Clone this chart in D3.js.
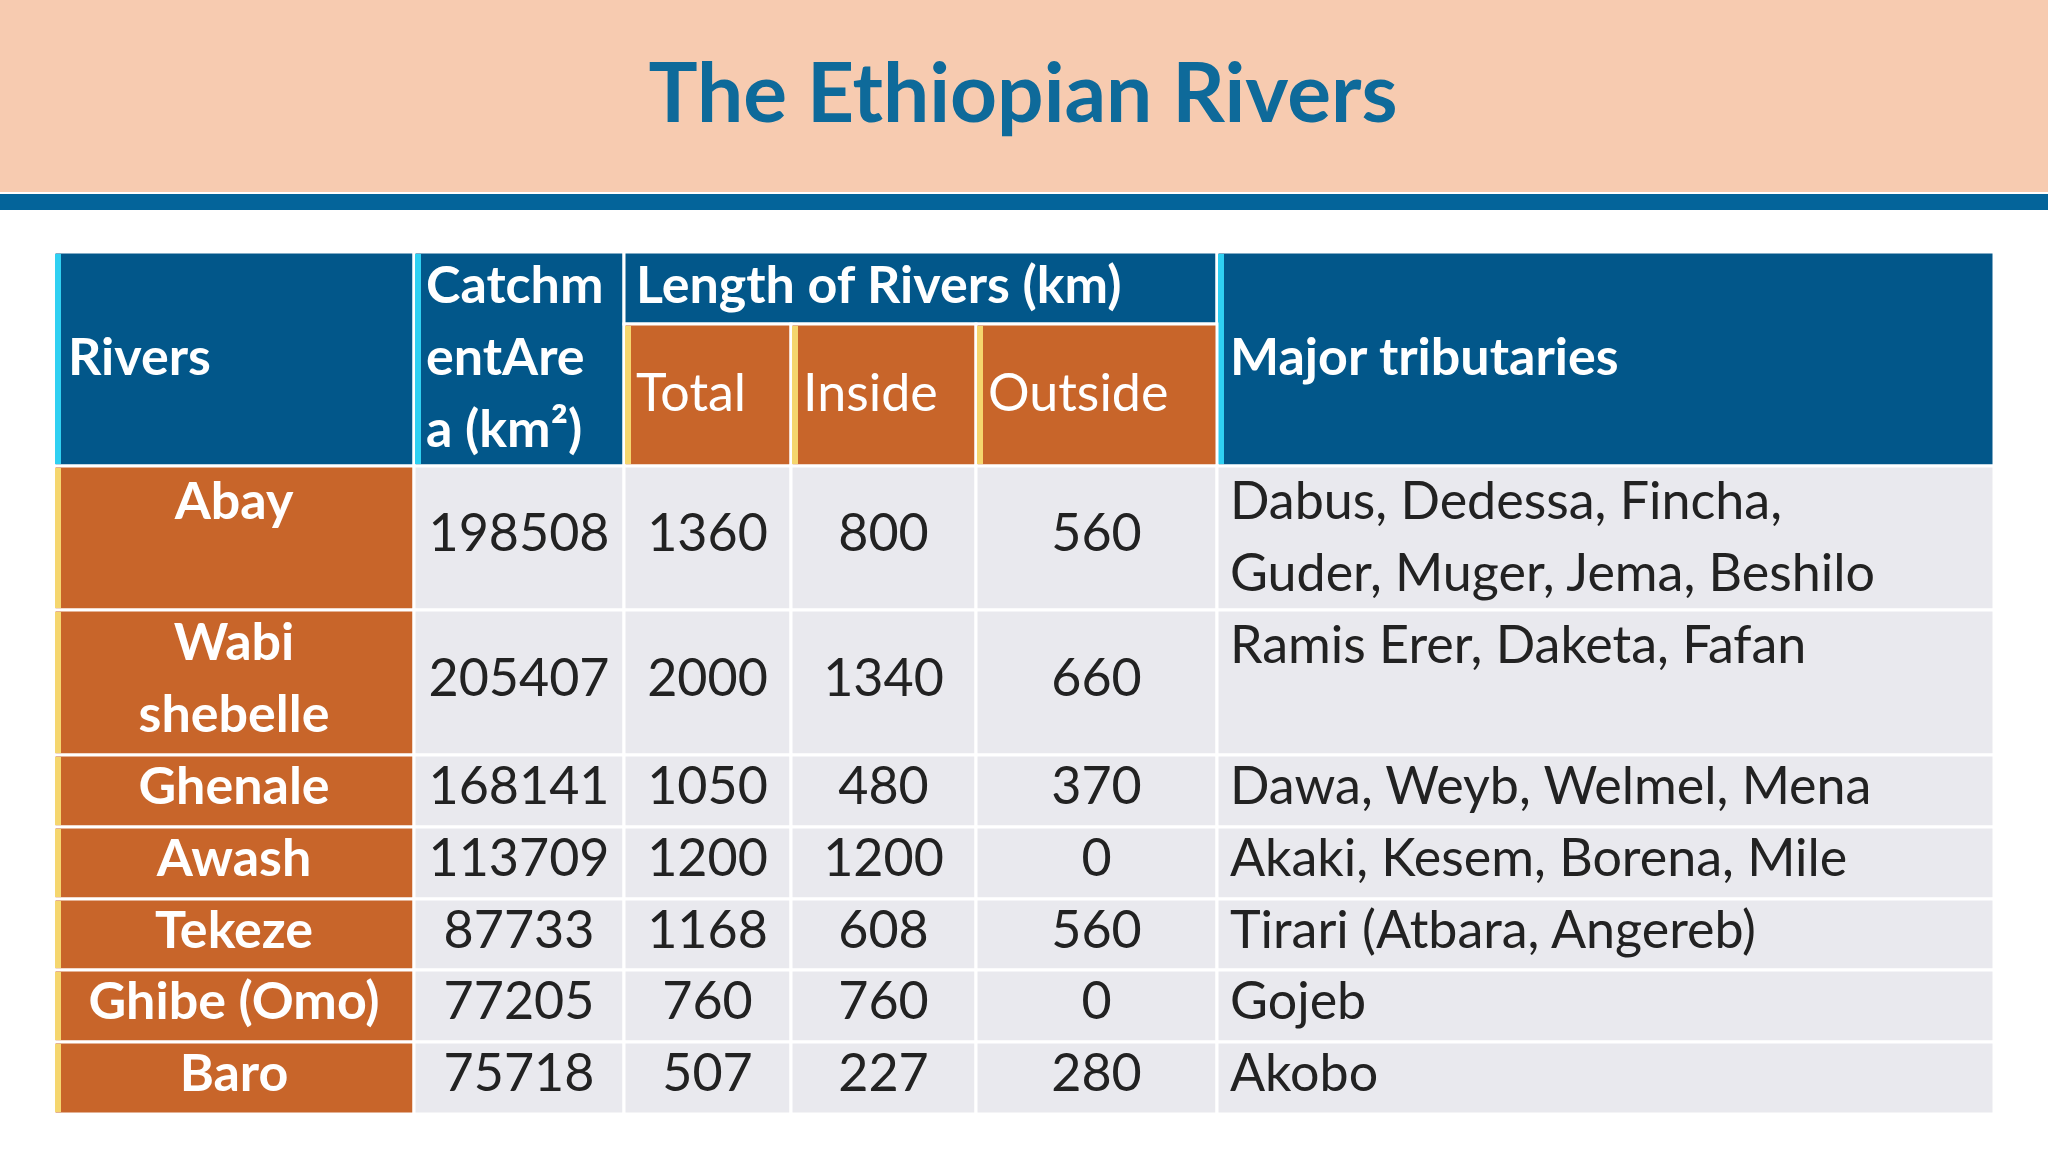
<!DOCTYPE html><html><head><meta charset="utf-8"><script src="https://cdn.jsdelivr.net/npm/d3@7"></script>
<style>body{margin:0;background:#fff}svg{display:block}</style></head><body><script>
const rivers=["Abay","Wabi shebelle","Ghenale","Awash","Tekeze","Ghibe (Omo)","Baro"];
const catchment=[198508,205407,168141,113709,87733,77205,75718];
const total=[1360,2000,1050,1200,1168,760,507];
const inside=[800,1340,480,1200,608,760,227];
const outside=[560,660,370,0,560,0,280];
const tribs=[["Dabus, Dedessa, Fincha,","Guder, Muger, Jema, Beshilo"],["Ramis Erer, Daketa, Fafan"],["Dawa, Weyb, Welmel, Mena"],["Akaki, Kesem, Borena, Mile"],["Tirari (Atbara, Angereb)"],["Gojeb"],["Akobo"]];
const W=2048,H=1152,F="Lato, 'Open Sans', sans-serif";
const svg=d3.select("body").append("svg").attr("width",W).attr("height",H);
svg.append("rect").attr("width",W).attr("height",192).attr("fill","#f7cbb0");
svg.append("rect").attr("y",194).attr("width",W).attr("height",16).attr("fill","#04649a");
svg.append("text").attr("x",1023).attr("y",122).attr("text-anchor","middle").attr("font-family",F).attr("font-weight",700).attr("font-size",82).attr("fill","#0e6a9a").text("The Ethiopian Rivers");
const cx=[54,414,624,791,976,1217,1994];
const rowEdges=[466,610,755,827,899,970,1042,1114];
const y=d3.scaleOrdinal().domain(d3.range(7)).range(rowEdges.slice(0,7));
const rh=i=>rowEdges[i+1]-rowEdges[i];
function cell(x,yy,w,h,fill,edge){
  svg.append("rect").attr("x",x).attr("y",yy).attr("width",w).attr("height",h).attr("fill",fill).attr("stroke","#fff").attr("stroke-width",3);
  if(edge) svg.append("rect").attr("x",x+1).attr("y",yy+2).attr("width",6).attr("height",h-4).attr("fill",edge);
}
function txt(x,yy,s,o={}){svg.append("text").attr("x",x).attr("y",yy).attr("font-family",F).attr("font-size",o.fs||52).attr("font-weight",o.b?700:400).attr("fill",o.c||"#222").attr("text-anchor",o.a||"start").attr("dominant-baseline","middle").text(s);}
const blue="#02578a",cyan="#2fd0f2",org="#c8652a",gray="#e9e9ee";
// header
cell(cx[0],252,cx[1]-cx[0],214,blue,cyan);
cell(cx[1],252,cx[2]-cx[1],214,blue,cyan);
cell(cx[2],252,cx[5]-cx[2],72,blue);
cell(cx[5],252,cx[6]-cx[5],214,blue,cyan);
["Total","Inside","Outside"].forEach((s,k)=>{cell(cx[2+k],324,cx[3+k]-cx[2+k],142,org,"#f5d66e");txt(cx[2+k]+12,398,s,{c:"#fff",fs:52});});
txt(68,362,"Rivers",{c:"#fff",b:1});
["Catchm","entAre","a (km²)"].forEach((s,k)=>txt(426,290+k*72,s,{c:"#fff",b:1}));
txt(636,290,"Length of Rivers (km)",{c:"#fff",b:1});
txt(1230,362,"Major tributaries",{c:"#fff",b:1});
const cols=[catchment,total,inside,outside];
rivers.forEach((r,i)=>{
  const top=y(i),h=rh(i),mid=top+h/2;
  cell(cx[0],top,cx[1]-cx[0],h,org,"#f5d66e");
  const names=r==="Wabi shebelle"?["Wabi","shebelle"]:[r];
  if(i===0) txt(234,top+40,r,{c:"#fff",b:1,a:"middle"});
  else names.forEach((n,k)=>txt(234,mid+(k-(names.length-1)/2)*72,n,{c:"#fff",b:1,a:"middle"}));
  cols.forEach((arr,k)=>{cell(cx[1+k],top,cx[2+k]-cx[1+k],h,gray);txt((cx[1+k]+cx[2+k])/2,mid,String(arr[i]),{a:"middle"});});
  cell(cx[5],top,cx[6]-cx[5],h,gray);
  tribs[i].forEach((t,k)=>txt(1230,(i<2?top+40:mid)+k*72,t));
});
</script></body></html>
